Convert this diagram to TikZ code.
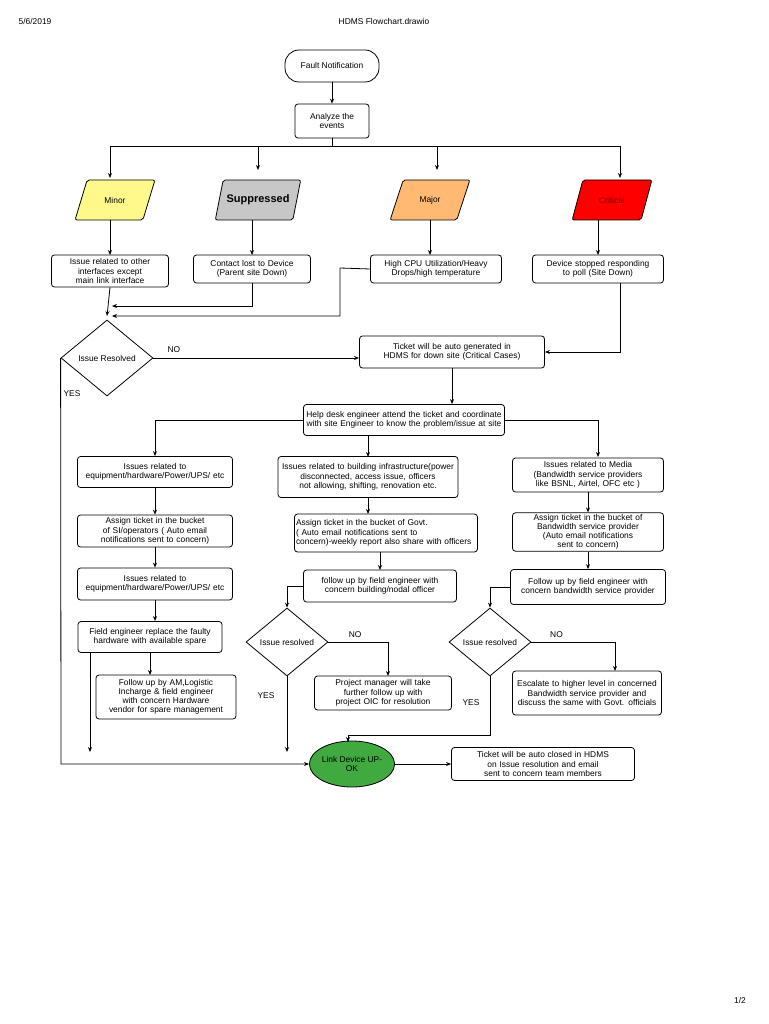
\documentclass[tikz,border=0pt]{standalone}
\usepackage{fontspec}
\setmainfont{Liberation Sans}
\usetikzlibrary{shapes.geometric,arrows.meta}
\begin{document}
\hyphenpenalty=10000\relax
\exhyphenpenalty=10000\relax
\begin{tikzpicture}[x=1pt,y=-1pt,
  font=\fontsize{8.4}{9.2}\selectfont,
  box/.style={draw,thick,rounded corners=3pt,align=center,inner sep=1.5pt},
  para/.style={draw,thick,trapezium,trapezium left angle=65,trapezium right angle=115,trapezium stretches=true,minimum width=80,minimum height=40,rounded corners=2pt},
  dia/.style={draw,thick,diamond,aspect=1.2,inner sep=0pt,align=center},
  arr/.style={-{Stealth[length=5pt,width=4pt]},thick},
  ln/.style={thick}]
\useasboundingbox (0,0) rectangle (768,1024);
\node at (35,22) {5/6/2019};
\node at (384,22) {HDMS Flowchart.drawio};
\node at (740,1000) {1/2};

\node[box,rounded corners=14pt,minimum width=94,minimum height=32] (fault) at (332,66) {Fault Notification};
\node[box,minimum width=74,minimum height=34] (an) at (332,121) {Analyze the\\events};
\node[para,fill=yellow!45] (minor) at (115,200) {Minor};
\node[para,fill=black!22] (sup) at (258,200) {\fontsize{11}{12}\selectfont\bfseries Suppressed};
\node[para,fill=orange!55] (maj) at (430,200) {Major};
\node[para,fill=red] (crit) at (612,200) {\color{red!50!black}Critical};
\draw[arr] (fault) -- (an);
\coordinate (bl) at (110,146); \coordinate (br) at (620,146);
\draw[ln] (an.south) -- (332,146);
\draw[ln] (bl) -- (br);
\draw[arr] (bl) -- (110,178);
\draw[arr] (258,146) -- (258,170);
\draw[arr] (437,146) -- (437,170);
\draw[arr] (br) -- (620,178);

\node[box,text width=114,minimum height=32] (b1) at (110,271) {Issue related to other interfaces except main link interface};
\node[box,text width=114,minimum height=28] (b2) at (252,269) {Contact lost to Device\\(Parent site Down)};
\node[box,text width=128,minimum height=28] (b3) at (436,269) {High CPU Utilization/Heavy Drops/high temperature};
\node[box,text width=128,minimum height=28] (b4) at (598,269) {Device stopped responding to poll (Site Down)};
\draw[arr] (110,220) -- (110,255);
\draw[arr] (252,220) -- (252,255);
\draw[arr] (430,220) -- (430,255);
\draw[arr] (598,220) -- (598,255);

\node[dia,minimum width=92,minimum height=76,aspect=1.21] (d1) at (107,358) {Issue Resolved};
\draw[arr] (b1.south) -- (107,316);
\draw[arr] (b2.south) -- (252,306) -- (112,306);
\draw[arr] (b3.west) -- (340,268) -- (340,316) -- (112,316);
\node[box,text width=182,minimum height=32] (tk) at (452,352) {Ticket will be auto generated in HDMS for down site (Critical Cases)};
\draw[arr] (d1.east) -- node[above,pos=0.1,yshift=2pt]{NO} (d1.east-|tk.west);
\draw[arr] (620,283) -- (620,352) -- (tk.east);
\node at (72,394) {YES};

\node[box,text width=198,minimum height=31] (hd) at (404,420) {Help desk engineer attend the ticket and coordinate with site Engineer to know the problem/issue at site};
\draw[arr] (tk.south) -- (tk.south|-hd.north);

\node[box,text width=152,minimum height=31] (e1) at (155,472) {Issues related to equipment/hardware/Power/UPS/ etc};
\node[box,text width=152,minimum height=32] (a1) at (155,531) {Assign ticket in the bucket of SI/operators ( Auto email notifications sent to concern)};
\node[box,text width=152,minimum height=32] (e2) at (155,584) {Issues related to equipment/hardware/Power/UPS/ etc};
\node[box,text width=141,minimum height=31] (fr) at (150,637) {Field engineer replace the faulty hardware with available spare};
\node[box,text width=137,minimum height=44] (am) at (166,697) {Follow up by AM,Logistic Incharge \& field engineer with concern Hardware vendor for spare management};
\draw[arr] (hd.west) -| (e1.north);
\draw[arr] (e1) -- (a1);
\draw[arr] (a1) -- (e2);
\draw[arr] (e2.south) -- (155,621);
\draw[arr] (150,652) -- (150,675);
\draw[arr] (90,652) -- (90,752);

\node[box,text width=177,minimum height=41] (bu) at (368,477) {Issues related to building infrastructure(power disconnected, access issue, officers not allowing, shifting, renovation etc.};
\node[box,text width=180,minimum height=38,align=left] (ag) at (386,533) {Assign ticket in the bucket of Govt.\\( Auto email notifications sent to concern)-weekly report also share with officers};
\node[box,text width=150,minimum height=32] (ff) at (380,586) {follow up by field engineer with concern building/nodal officer};
\node[dia,minimum width=82,minimum height=68,aspect=1.2] (d2) at (287,642) {Issue resolved};
\node[box,text width=134,minimum height=34] (pm) at (383,693) {Project manager will take further follow up with project OIC for resolution};
\draw[arr] (368,436) -- (368,457);
\draw[arr] (368,498) -- (368,514);
\draw[arr] (380,552) -- (380,570);
\draw[arr] (ff.west) -| (d2.north);
\draw[arr] (d2.east) -- node[above,pos=0.45,yshift=1pt]{NO} (388,642) -- (388,676);
\draw[arr] (d2.south) -- (287,752);
\node at (266,696) {YES};

\node[box,text width=148,minimum height=34] (me) at (588,475) {Issues related to Media (Bandwidth service providers like BSNL, Airtel, OFC etc )};
\node[box,text width=148,minimum height=37] (ab) at (588,532) {Assign ticket in the bucket of Bandwidth service provider\\ (Auto email notifications sent to concern)};
\node[box,text width=152,minimum height=35] (fb) at (588,587) {Follow up by field engineer with concern bandwidth service provider};
\node[dia,minimum width=82,minimum height=68,aspect=1.2] (d3) at (490,642) {Issue resolved};
\node[box,text width=146,minimum height=44] (es) at (587,693) {Escalate to higher level in concerned Bandwidth service provider  and discuss the same with Govt. officials};
\draw[arr] (hd.east) -| (598,457);
\draw[arr] (me.south) -- (ab.north);
\draw[arr] (ab.south) -- (fb.north);
\draw[arr] (fb.west) -| (d3.north);
\draw[arr] (d3.east) -- node[above,pos=0.3,yshift=1pt]{NO} (615,642) -- (615,671);
\node at (471,703) {YES};

\node[draw,thick,ellipse,fill=green!55!black!75,minimum width=74,minimum height=46,inner sep=0pt,align=center] (lk) at (352,764) {Link Device UP-\\OK};
\node[box,text width=180,minimum height=33] (cl) at (543,764) {Ticket will be auto closed in HDMS on Issue resolution and email sent to concern team members};
\draw[arr] (d3.south) -- (490,735) -- (348,735) -- (348,742);
\draw[arr] (d1.west) -- (61,764) -- (lk.west);
\draw[arr] (lk.east) -- (cl.west);
\end{tikzpicture}
\end{document}
